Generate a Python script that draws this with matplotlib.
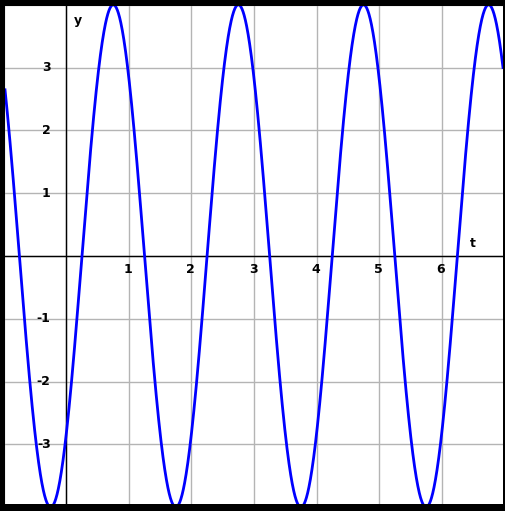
import matplotlib.pyplot as plt
import numpy as np

# curve parameters: y = A * sin(2*pi*(t - shift)/period)
amplitude = 4.0
period = 2.0
shift = 0.25
t_range = (-0.98, 6.98)
y_range = (-3.95, 3.98)

x_ticks = [1, 2, 3, 4, 5, 6]
y_ticks = [-3, -2, -1, 1, 2, 3]

t = np.linspace(t_range[0], t_range[1], 2000)
y = amplitude * np.sin(2 * np.pi * (t - shift) / period)

fig = plt.figure(figsize=(5.06, 5.11), dpi=100, facecolor="black")
ax = fig.add_axes([5 / 506, 7 / 511, 498 / 506, 498 / 511])
ax.set_facecolor("white")

for gx in range(-1, 8):
    ax.axvline(gx, color="#b4b4b4", lw=1, zorder=0)
for gy in range(-4, 5):
    ax.axhline(gy, color="#b4b4b4", lw=1, zorder=0)
ax.axhline(0, color="black", lw=1, zorder=1)
ax.axvline(0, color="black", lw=1, zorder=1)

ax.plot(t, y, color="#0000ff", lw=2, zorder=2)

for v in x_ticks:
    ax.text(v - 0.08, -0.12, str(v), ha="left", va="top",
            fontsize=9, fontweight="bold", color="black")
for v in y_ticks:
    ax.text(-0.25, v, str(v), ha="right", va="center",
            fontsize=9, fontweight="bold", color="black")
ax.text(0.12, 3.75, "y", fontsize=9, fontweight="bold", ha="left", va="center")
ax.text(6.45, 0.2, "t", fontsize=9, fontweight="bold", ha="left", va="center")

ax.set_xlim(*t_range)
ax.set_ylim(*y_range)
ax.set_xticks([])
ax.set_yticks([])
for s in ax.spines.values():
    s.set_visible(False)

fig.savefig("out.png", dpi=100, facecolor="black")
